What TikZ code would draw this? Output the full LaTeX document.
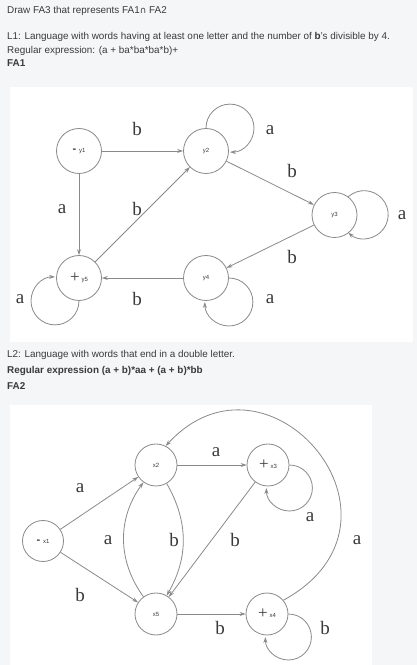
\documentclass[tikz,border=0pt]{standalone}
\usepackage{fontspec}
\setmainfont{Liberation Sans}
\newfontfamily\serif{Liberation Serif}
\newfontfamily\djv{DejaVu Sans}
\usetikzlibrary{arrows.meta}
\definecolor{bg}{HTML}{F5F6F8}
\definecolor{txt}{HTML}{3A3A3A}
\definecolor{ln}{HTML}{8A8A8A}
\newcommand{\mns}{{\bfseries\fontsize{11}{11}\selectfont -}}
\newcommand{\pls}{\raisebox{-1.5pt}{\serif\fontsize{17}{10}\selectfont +}}
\begin{document}
\begin{tikzpicture}[x=1pt,y=1pt,
  st/.style={circle, draw=ln, line width=0.8pt, minimum size=45pt, inner sep=0pt,
    font=\fontsize{6}{6}\selectfont, text=txt},
  st2/.style={st, minimum size=42pt},
  st1/.style={st, minimum size=41pt},
  tr/.style={draw=ln, line width=0.8pt, -{Stealth[length=6pt,width=4pt,inset=2pt]}},
  lab/.style={font=\serif\fontsize{19}{19}\selectfont, text=txt, inner sep=0pt},
  hd/.style={anchor=base west, inner sep=0pt, font=\fontsize{9.9}{11}\selectfont, text=txt}
]
\useasboundingbox (0,0) rectangle (417,665);
\fill[bg] (0,0) rectangle (417,665);
\fill[white] (10,323) rectangle (413,578);
\fill[white] (10,0) rectangle (372,260);

% header texts
\node[hd] (t1) at (7,651) {Draw FA3 that represents FA1{\djv\fontsize{9}{9}\selectfont ∩} FA2};
\node[hd] (t2) at (7,625) {L1: Language with words having at least one letter and the number of \textbf{b}'s divisible by 4.};
\node[hd] (t3) at (7,611) {Regular expression: (a + ba*ba*ba*b)+};
\node[hd] (t4) at (7,598) {\textbf{FA1}};
\node[hd] (t5) at (7,307.5) {L2: Language with words that end in a double letter.};
\node[hd] (t6) at (7,291) {\textbf{Regular expression (a + b)*aa + (a + b)*bb}};
\node[hd] (t7) at (7,275) {\textbf{FA2}};

% FA1
\node[st] (y1) at (79,514) {\mns\hspace{3pt}y1\hspace{7pt}};
\node[st] (y2) at (206,514) {y2};
\node[st] (y3) at (334.5,450) {y3};
\node[st] (y4) at (206,387) {y4};
\node[st] (y5) at (79,387) {\pls\hspace{2pt}y5\hspace{6pt}};

\draw[tr] (y1) -- (y2);
\draw[tr] (y1) -- (y5);
\draw[tr] (y5) -- (y2);
\draw[tr] (y2) -- (y3);
\draw[tr] (y3) -- (y4);
\draw[tr] (y4) -- (y5);
\draw[tr] (y2.north) arc[start angle=180, delta angle=-270, radius=24];
\draw[tr] (y3.53) arc[start angle=131.5, delta angle=-263, radius=24];
\draw[tr] (y4.east) arc[start angle=90, delta angle=-270, radius=24];
\draw[tr] (y5.south) arc[start angle=0, delta angle=-270, radius=24];

\node[lab] (l1) at (137,536) {b};
\node[lab] (l2) at (62,456) {a};
\node[lab] (l3) at (137,456) {b};
\node[lab] (l4) at (270,535) {a};
\node[lab] (l5) at (292,494) {b};
\node[lab] (l6) at (402,450) {a};
\node[lab] (l7) at (292,408) {b};
\node[lab] (l8) at (137,366) {b};
\node[lab] (l9) at (270,366) {a};
\node[lab] (l10) at (20,366) {a};

% FA2
\node[st1] (x1) at (43,124) {\mns\hspace{3pt}x1\hspace{7pt}};
\node[st2] (x2) at (156,200) {x2};
\node[st2] (x3) at (268,200) {\pls\hspace{2pt}x3\hspace{6pt}};
\node[st2] (x5) at (156,51) {x5};
\node[st2] (x4) at (267,51) {\pls\hspace{2pt}x4\hspace{6pt}};

\draw[tr] (x1) -- (x2);
\draw[tr] (x1) -- (x5);
\draw[tr] (x2) -- (x3);
\draw[tr] (x5) -- (x4);
\draw[tr] (x2) to[bend left=30] (x5);
\draw[tr] (x5) to[bend left=36] (x2);
\draw[tr] (x3) -- (x5);
\draw[tr] (x3.east) arc[start angle=90, delta angle=-270, radius=23];
\draw[tr] (x4.east) arc[start angle=90, delta angle=-270, radius=23];
\draw[tr] (x4.40) .. controls +(144,79) and +(103,112) .. (x2.63);

\node[lab] (m1) at (80,177) {a};
\node[lab] (m2) at (80,70) {b};
\node[lab] (m3) at (108,125) {a};
\node[lab] (m4) at (174,125) {b};
\node[lab] (m5) at (216,213) {a};
\node[lab] (m6) at (235,125) {b};
\node[lab] (m7) at (310,148) {a};
\node[lab] (m8) at (220,37) {b};
\node[lab] (m9) at (325,37) {b};
\node[lab] (m10) at (357,125) {a};
\end{tikzpicture}
\end{document}
